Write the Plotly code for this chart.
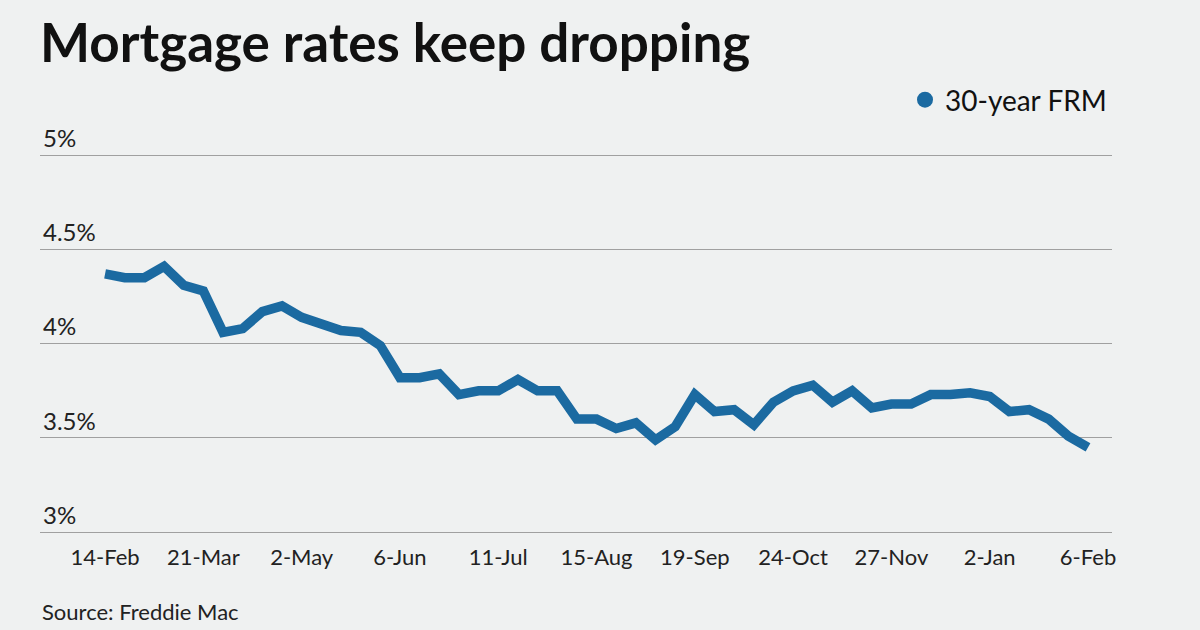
import plotly.graph_objects as go

weeks = ["14-Feb", "21-Feb", "28-Feb", "7-Mar", "14-Mar", "21-Mar", "28-Mar", "4-Apr",
         "18-Apr", "25-Apr", "2-May", "9-May", "16-May", "23-May", "30-May", "6-Jun",
         "13-Jun", "20-Jun", "27-Jun", "4-Jul", "11-Jul", "18-Jul", "25-Jul", "1-Aug",
         "8-Aug", "15-Aug", "22-Aug", "29-Aug", "5-Sep", "12-Sep", "19-Sep", "26-Sep",
         "3-Oct", "10-Oct", "17-Oct", "24-Oct", "31-Oct", "7-Nov", "14-Nov", "21-Nov",
         "27-Nov", "5-Dec", "12-Dec", "19-Dec", "26-Dec", "2-Jan", "9-Jan", "16-Jan",
         "23-Jan", "30-Jan", "6-Feb"]
rate_30yr = [4.37, 4.35, 4.35, 4.41, 4.31, 4.28, 4.06, 4.08, 4.17, 4.20, 4.14, 4.10,
             4.07, 4.06, 3.99, 3.82, 3.82, 3.84, 3.73, 3.75, 3.75, 3.81, 3.75, 3.75,
             3.60, 3.60, 3.55, 3.58, 3.49, 3.56, 3.73, 3.64, 3.65, 3.57, 3.69, 3.75,
             3.78, 3.69, 3.75, 3.66, 3.68, 3.68, 3.73, 3.73, 3.74, 3.72, 3.64, 3.65,
             3.60, 3.51, 3.45]
x_ticks = weeks[::5]
y_ticks = [3, 3.5, 4, 4.5, 5]
y_tick_text = ["3%", "3.5%", "4%", "4.5%", "5%"]

BG = "#eff1f1"
BLUE = "#1b6aa1"
FONT = "Lato"

PLOT_TOP, PLOT_BOTTOM = 125, 536
PLOT_H = PLOT_BOTTOM - PLOT_TOP

fig = go.Figure()
fig.add_trace(go.Scatter(x=weeks, y=rate_30yr, mode="lines",
                         line=dict(color=BLUE, width=9.5), showlegend=False,
                         hoverinfo="skip"))
fig.add_trace(go.Scatter(x=[None], y=[None], mode="markers", name="30-year FRM",
                         marker=dict(color=BLUE, size=17)))

fig.update_layout(
    width=1200, height=630,
    paper_bgcolor=BG, plot_bgcolor=BG,
    margin=dict(l=40, r=88, t=PLOT_TOP, b=630 - PLOT_BOTTOM),
    font=dict(family=FONT, color="#222222"),
    title=dict(text="<b>Mortgage rates keep dropping</b>", x=40 / 1200, xanchor="left",
               y=1 - 43 / 630, yanchor="middle",
               font=dict(size=53, color="#111111", family=FONT)),
    legend=dict(x=1.0, xanchor="right", y=1 + 25 / PLOT_H, yanchor="middle",
                font=dict(size=28, color="#111111"), bgcolor="rgba(0,0,0,0)",
                itemwidth=30),
    xaxis=dict(type="category", categoryorder="array", categoryarray=weeks,
               range=[-3.31, 51.22], tickvals=x_ticks, ticktext=x_ticks,
               showgrid=False, zeroline=False, showline=False, ticks="",
               ticklabelstandoff=6,
               tickfont=dict(size=22, color="#222222")),
    yaxis=dict(range=[2.98, 5.16], tickvals=y_ticks, ticktext=y_tick_text,
               ticklabelposition="inside top", ticklabeloverflow="allow",
               showgrid=True, gridcolor="#a0a0a0",
               gridwidth=1.3, zeroline=False, showline=False, ticks="",
               tickfont=dict(size=24, color="#222222")),
    annotations=[dict(text="Source: Freddie Mac", x=0.0, xref="paper", xanchor="left",
                      y=-(611 - PLOT_BOTTOM) / PLOT_H, yref="paper", yanchor="middle",
                      showarrow=False, font=dict(size=22, color="#222222"))],
)

fig.write_html("out.html", config={"displayModeBar": False},
               post_script="document.body.style.margin='0';")
